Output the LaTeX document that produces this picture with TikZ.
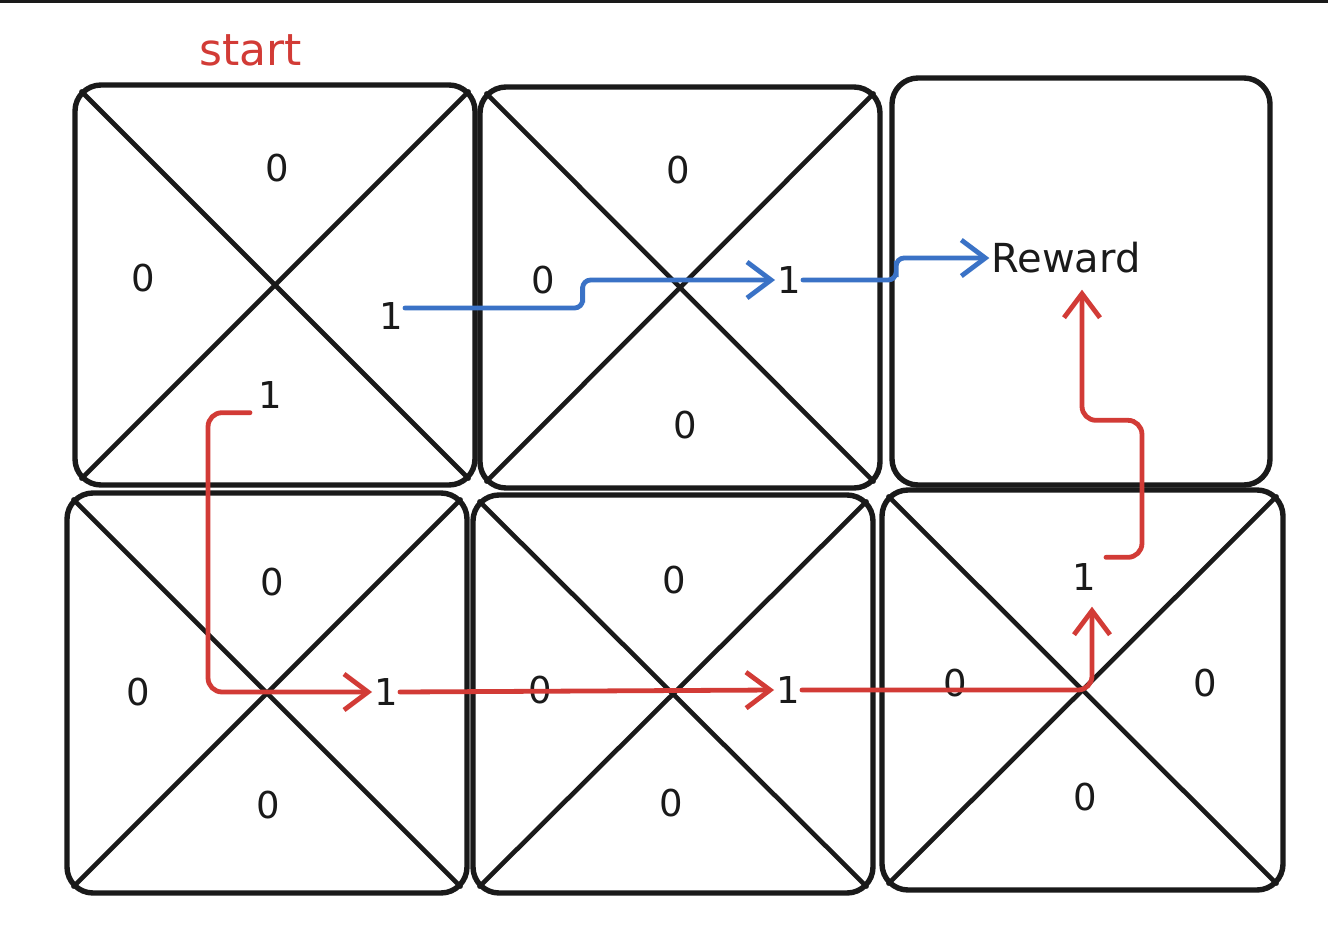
\documentclass[tikz,border=0pt]{standalone}
\usepackage{fontspec}
\setmainfont{DejaVu Sans}
\usetikzlibrary{arrows.meta,calc}
\definecolor{arrblue}{HTML}{3A72C6}
\definecolor{arrred}{HTML}{D23B36}
\definecolor{ink}{HTML}{1A1A1A}
\tikzset{
  cell/.style={draw=ink, line width=5.4pt, rounded corners=26pt, inner sep=0pt},
  diag/.style={draw=ink, line width=4.6pt, shorten <=13pt, shorten >=13pt, line cap=round},
  val/.style={inner sep=2pt, text=ink, font=\fontsize{37}{39}\selectfont},
  conn/.style={line width=4.8pt, rounded corners=12pt, line cap=round,
    -{Straight Barb[length=24pt,width=36pt,line width=4.8pt]}},
  blueconn/.style={conn, draw=arrblue},
  redconn/.style={conn, draw=arrred},
}
\begin{document}
\begin{tikzpicture}[x=1pt,y=-1pt]
\useasboundingbox (0,0) rectangle (1328,948);
\fill[white] (0,0) rectangle (1328,948);
\draw[ink, line width=3.5pt] (0,1.5) -- (1328,1.5);

% cells
\node[cell, minimum width=400pt, minimum height=400pt] (c1) at (275,285) {};
\node[cell, minimum width=400pt, minimum height=401pt] (c2) at (680,287.5) {};
\node[cell, minimum width=378pt, minimum height=407pt] (c3) at (1081,281.5) {};
\node[cell, minimum width=400pt, minimum height=400pt] (c4) at (267,693) {};
\node[cell, minimum width=400pt, minimum height=398pt] (c5) at (673,694) {};
\node[cell, minimum width=401pt, minimum height=400pt] (c6) at (1082.5,690) {};

\foreach \c in {c1,c2,c4,c5,c6}{
  \draw[diag] (\c.north west) -- (\c.south east);
  \draw[diag] (\c.north east) -- (\c.south west);
}

% start label
\node[inner sep=0pt, text=arrred, font=\fontsize{44}{46}\selectfont] (start) at (251,50) {start};

% values cell 1
\node[val] (a1t) at (277,168) {0};
\node[val] (a1l) at (143,278) {0};
\node[val] (a1r) at (391,316) {1};
\node[val] (a1b) at (270,395) {1};
% cell 2
\node[val] (a2t) at (678,170) {0};
\node[val] (a2l) at (543,280) {0};
\node[val] (a2r) at (789,280) {1};
\node[val] (a2b) at (685,425) {0};
% cell 3
\node[inner sep=2pt, text=ink, font=\fontsize{40}{42}\selectfont] (rew) at (1066,258) {Reward};
% cell 4
\node[val] (a4t) at (272,582) {0};
\node[val] (a4l) at (138,692) {0};
\node[val] (a4r) at (386,692) {1};
\node[val] (a4b) at (268,805) {0};
% cell 5
\node[val] (a5t) at (674,580) {0};
\node[val] (a5l) at (540,690) {0};
\node[val] (a5r) at (788,690) {1};
\node[val] (a5b) at (671,803) {0};
% cell 6
\node[val] (a6t) at (1084,577) {1};
\node[val] (a6l) at (955,683) {0};
\node[val] (a6r) at (1205,683) {0};
\node[val] (a6b) at (1085,797) {0};

% blue path
\draw[blueconn, rounded corners=8pt] ([yshift=8pt]a1r.east) -| ($([yshift=8pt]a1r.east)!0.48!(a2r.west)$) |- (a2r.west);
\draw[blueconn, rounded corners=8pt] (a2r.east) -| ($(a2r.east)!0.5!(rew.west)$) |- (rew.west);

% red path
\draw[redconn, rounded corners=14pt] ([xshift=-6pt,yshift=-2pt]a1b.south west) -- ++(-42,0) |- (a4r.west);
\draw[redconn] (a4r.east) -- (a5r.west);
\draw[redconn, rounded corners=14pt] (a5r.east) -| ([xshift=8pt,yshift=-14pt]a6t.south);
\draw[redconn, rounded corners=14pt] ([xshift=8pt,yshift=4pt]a6t.north east) -- ++(36,0) -- ++(0,-137) -| ([xshift=16pt,yshift=-14pt]rew.south);
\end{tikzpicture}
\end{document}
